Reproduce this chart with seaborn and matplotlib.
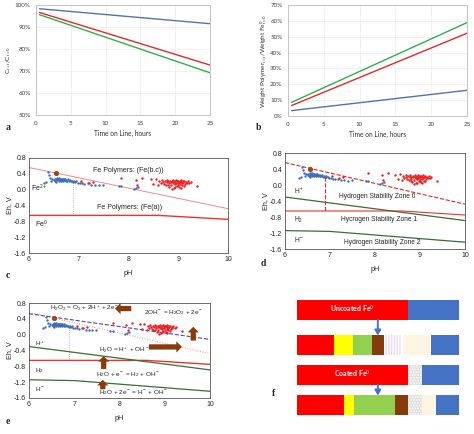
import numpy as np
import pandas as pd
import matplotlib
matplotlib.use("Agg")
import matplotlib.pyplot as plt
import seaborn as sns
from matplotlib.ticker import MultipleLocator, FuncFormatter

# ==========================
# Dane - panel a / b (czas pracy)
# ==========================
hours = [0.5, 25.0]
a_blue = [98.3, 91.5]
a_red = [96.6, 72.7]
a_green = [95.6, 69.2]
b_green = [8.6, 58.9]
b_red = [6.6, 52.2]
b_blue = [3.4, 16.2]

# ==========================
# Dane - diagramy Eh-pH (c, d, e)
# ==========================
blue_ph = [6.38, 6.40, 6.42, 6.45, 6.47, 6.50, 6.52, 6.53, 6.55, 6.56, 6.57, 6.58, 6.60, 6.60,
           6.62, 6.63, 6.64, 6.65, 6.66, 6.67, 6.68, 6.69, 6.70, 6.71, 6.72, 6.73, 6.74, 6.75,
           6.77, 6.78, 6.80, 6.82, 6.84, 6.86, 6.88, 6.90, 6.92, 6.95, 6.98, 7.02, 7.06, 7.10,
           7.18, 7.25, 7.32, 7.40, 7.48, 6.35, 6.30, 6.55, 7.80, 7.85, 8.12, 8.16, 8.20]
blue_eh = [0.45, 0.38, 0.30, 0.22, 0.27, 0.25, 0.28, 0.23, 0.26, 0.30, 0.24, 0.27, 0.22, 0.29,
           0.25, 0.27, 0.23, 0.28, 0.26, 0.24, 0.27, 0.22, 0.25, 0.28, 0.24, 0.26, 0.22, 0.25,
           0.23, 0.26, 0.22, 0.24, 0.21, 0.23, 0.20, 0.22, 0.19, 0.21, 0.18, 0.17, 0.16, 0.15,
           0.16, 0.13, 0.12, 0.11, 0.12, 0.20, 0.18, 0.20, 0.09, 0.10, 0.02, 0.05, 0.08]
red_ph = [8.62, 8.65, 8.68, 8.70, 8.72, 8.74, 8.75, 8.77, 8.78, 8.80, 8.81, 8.82, 8.84, 8.85,
          8.86, 8.88, 8.89, 8.90, 8.91, 8.92, 8.93, 8.94, 8.95, 8.96, 8.97, 8.98, 8.99, 9.00,
          9.01, 9.02, 9.03, 9.04, 9.05, 9.06, 9.07, 9.08, 9.09, 9.10, 9.12, 9.13, 9.15, 9.17,
          9.19, 9.22, 9.25, 8.87, 8.94, 9.00, 9.05, 9.11, 8.79, 9.38,
          7.05, 7.20, 7.28, 7.85, 8.15, 8.18, 8.28, 8.45, 8.50, 8.55, 8.60]
red_eh = [0.22, 0.18, 0.24, 0.20, 0.15, 0.22, 0.12, 0.19, 0.24, 0.21, 0.16, 0.08, 0.23, 0.19,
          0.13, 0.21, 0.24, 0.17, 0.05, 0.20, 0.22, 0.14, 0.18, 0.24, 0.10, 0.21, 0.16, 0.23,
          0.19, 0.07, 0.22, 0.14, 0.20, 0.24, 0.17, 0.11, 0.21, 0.19, 0.23, 0.15, 0.20, 0.18,
          0.22, 0.17, 0.20, 0.02, 0.06, 0.11, 0.04, 0.09, 0.11, 0.10,
          0.22, 0.18, 0.19, 0.30, 0.24, 0.12, 0.30, 0.26, 0.15, 0.27, 0.12]
brown_ph = [6.55]
brown_eh = [0.41]

# granice stref
poly_ph = [6.0, 10.0]
poly_eh = [0.56, -0.48]
fe0_ph = [6.0, 8.6, 10.0]
fe0_eh = [-0.65, -0.65, -0.75]
vert_ph = [6.88, 6.88]
vert_eh = [0.20, -0.65]
h_up_ph = [6.0, 10.0]
h_up_eh = [-0.30, -0.89]
h_low_ph = [6.0, 7.0, 10.0]
h_low_eh = [-1.14, -1.16, -1.43]
perox_ph = [6.0, 10.0]
perox_eh = [0.53, -0.12]

# ==========================
# Dane - panel f (udziały warstw, %)
# ==========================
f_rows = [
    [("#ff0000", 68.4), ("#4472c4", 31.6)],
    [("#ff0000", 22.8), ("#ffff00", 11.5), ("#92d050", 11.7), ("#843c0c", 7.8),
     ("#e6def0", 11.3), ("#ffffff", 0.6), ("#fdf5e1", 16.6), ("#ffffff", 0.4), ("#4472c4", 17.3)],
    [("#ff0000", 68.8), ("#dcdcdc", 8.4), ("#4472c4", 22.8)],
    [("#ff0000", 29.2), ("#ffff00", 6.2), ("#92d050", 25.1), ("#843c0c", 8.2),
     ("#dcdcdc", 8.6), ("#fdf5e1", 8.2), ("#4472c4", 14.7)],
]
f_titles = ["Uncoated Fe$^0$", None, "Coated Fe$^0$", None]

sns.set_style("white")
plt.rcParams["font.family"] = ["Liberation Sans", "DejaVu Sans"]
plt.rcParams["mathtext.fontset"] = "custom"
plt.rcParams["mathtext.rm"] = "Liberation Sans"
plt.rcParams["mathtext.it"] = "Liberation Sans:italic"

W, H = 474, 434
fig = plt.figure(figsize=(W / 100, H / 100), dpi=100)


def box(x0, y0, x1, y1):
    # piksele -> ułamki figury
    return [x0 / W, 1 - y1 / H, (x1 - x0) / W, (y1 - y0) / H]


def line(ax, x, y, **kw):
    sns.lineplot(x=x, y=y, ax=ax, estimator=None, sort=False, **kw)


# ---------- a, b ----------
def time_panel(ax, series, ylim, ystep, ylabel):
    for vals, col in series:
        line(ax, hours, vals, color=col, lw=1.0)
    ax.set_xlim(0, 25)
    ax.set_ylim(*ylim)
    ax.xaxis.set_major_locator(MultipleLocator(5))
    ax.xaxis.set_minor_locator(MultipleLocator(1))
    ax.yaxis.set_major_locator(MultipleLocator(ystep))
    ax.yaxis.set_minor_locator(MultipleLocator(ystep / 5))
    ax.yaxis.set_major_formatter(FuncFormatter(lambda v, p: f"{v:.0f}%"))
    ax.grid(True, color="#ececec", lw=0.5)
    for s in ax.spines.values():
        s.set_color("#bdbdbd")
        s.set_linewidth(0.6)
    ax.tick_params(which="both", direction="out", colors="#9a9a9a", labelcolor="#444444",
                   labelsize=4.5, length=2, width=0.4, pad=2)
    ax.tick_params(which="minor", length=1.2)
    ax.set_xlabel("Time on Line, hours", fontsize=4.8, family="Lato", color="#333333", labelpad=3)
    ax.set_ylabel(ylabel, fontsize=4.6, family="Lato", color="#333333", labelpad=1)
    for t in ax.get_xticklabels() + ax.get_yticklabels():
        t.set_family("Lato")


ax_a = fig.add_axes(box(36, 5, 210, 115))
time_panel(ax_a, [(a_blue, "#5470b4"), (a_red, "#e8262b"), (a_green, "#2fae4f")],
           (50, 100), 10, "C$_{t=t}$/C$_{t=0}$")
ax_b = fig.add_axes(box(288, 5, 467, 116))
time_panel(ax_b, [(b_green, "#2fae4f"), (b_red, "#e8262b"), (b_blue, "#5470b4")],
           (0, 70), 10, "Weight Polymer$_{t=t}$/Weight Fe$^0_{t=0}$")


# ---------- c, d, e ----------
def ehph_axes(ax):
    sns.scatterplot(x=blue_ph, y=blue_eh, ax=ax, color="#3d6fb8", s=3, linewidth=0, zorder=3)
    sns.scatterplot(x=red_ph, y=red_eh, ax=ax, color="#ee1c1c", s=3, linewidth=0, zorder=3)
    sns.scatterplot(x=brown_ph, y=brown_eh, ax=ax, color="#9a4a16", s=14, linewidth=0, zorder=4)
    ax.set_xlim(6, 10)
    ax.set_ylim(-1.6, 0.8)
    ax.xaxis.set_major_locator(MultipleLocator(1))
    ax.xaxis.set_minor_locator(MultipleLocator(0.2))
    ax.yaxis.set_major_locator(MultipleLocator(0.4))
    ax.yaxis.set_minor_locator(MultipleLocator(0.1))
    ax.yaxis.set_major_formatter(FuncFormatter(lambda v, p: f"{v:.1f}"))
    for s in ax.spines.values():
        s.set_color("#555555")
        s.set_linewidth(0.6)
    ax.tick_params(which="both", direction="in", labelsize=5, length=2, width=0.4,
                   colors="#555555", labelcolor="#222222", pad=2)
    ax.tick_params(which="minor", length=1.2)
    ax.set_xlabel("pH", fontsize=5.2, labelpad=5)
    ax.set_ylabel("Eh, V", fontsize=5.2, labelpad=1)


txt = dict(fontsize=5, color="#222222", va="center")

ax_c = fig.add_axes(box(29, 158, 228, 253))
line(ax_c, poly_ph, poly_eh, color="#f08a8a", lw=0.7)
line(ax_c, vert_ph, vert_eh, color="#f08a8a", lw=0.6, linestyle=":")
line(ax_c, fe0_ph, fe0_eh, color="#f03030", lw=1.0)
ehph_axes(ax_c)
ax_c.text(7.28, 0.49, "Fe Polymers: (Fe(b.c))", **txt)
ax_c.text(7.36, -0.44, "Fe Polymers: (Fe(a))", **txt)
ax_c.text(6.05, 0.04, "Fe$^{2+}$", **txt)
ax_c.text(6.12, -0.88, "Fe$^0$", **txt)

ax_d = fig.add_axes(box(285, 153, 465, 249))
line(ax_d, poly_ph, poly_eh, color="#ee2020", lw=0.8, linestyle="--", dashes=(3, 2))
line(ax_d, vert_ph, vert_eh, color="#ee2020", lw=0.8, linestyle="--", dashes=(2, 1.5))
line(ax_d, fe0_ph, fe0_eh, color="#f03030", lw=0.8)
line(ax_d, h_up_ph, h_up_eh, color="#3d6b3a", lw=0.9)
line(ax_d, h_low_ph, h_low_eh, color="#3d6b3a", lw=0.9)
ehph_axes(ax_d)
dtxt = dict(txt, fontsize=4.8)
ax_d.text(6.19, -0.15, "H$^+$", **dtxt)
ax_d.text(7.2, -0.29, "Hydrogen Stability Zone 0", **dtxt)
ax_d.text(6.19, -0.87, "H$_2$", **dtxt)
ax_d.text(7.24, -0.87, "Hycrogen Stability Zone 1", **dtxt)
ax_d.text(6.19, -1.36, "H$^-$", **dtxt)
ax_d.text(7.3, -1.43, "Hydrogen Stability Zone 2", **dtxt)

ax_e = fig.add_axes(box(29, 303, 210, 398))
line(ax_e, poly_ph, poly_eh, color="#f08a8a", lw=0.7, linestyle=":")
line(ax_e, vert_ph, vert_eh, color="#f08a8a", lw=0.6, linestyle=":")
line(ax_e, perox_ph, perox_eh, color="#4a4ea8", lw=0.8, linestyle="--", dashes=(3, 2))
line(ax_e, fe0_ph, fe0_eh, color="#f03030", lw=1.0)
line(ax_e, h_up_ph, h_up_eh, color="#3d6b3a", lw=0.9)
line(ax_e, h_low_ph, h_low_eh, color="#3d6b3a", lw=0.9)
ehph_axes(ax_e)
etxt = dict(fontsize=4.6, color="#222222", va="center")
ax_e.text(6.46, 0.66, "H$_2$O$_2$ = O$_2$ + 2H$^+$ + 2e$^-$", **etxt)
ax_e.text(8.54, 0.55, "2OH$^-$ = H$_2$O$_2$ + 2e$^-$", **etxt)
ax_e.text(7.55, -0.40, "H$_2$O = H$^+$ + OH$^-$", **etxt)
ax_e.text(7.48, -1.0, "H$_2$O + e$^-$ = H$_2$ + OH$^-$", **etxt)
ax_e.text(7.55, -1.45, "H$_2$O + 2e$^-$ = H$^-$ + OH$^-$", **etxt)
ax_e.text(6.13, -0.23, "H$^+$", **etxt)
ax_e.text(6.13, -0.91, "H$_2$", **etxt)
ax_e.text(6.13, -1.38, "H$^-$", **etxt)
brown = "#8b3a0e"
arrows = [((8.26, 0.66), (7.9, 0.66)), ((8.65, -0.31), (9.38, -0.31)),
          ((9.63, -0.15), (9.63, 0.2)), ((7.65, -0.87), (7.65, -0.54)),
          ((7.63, -1.38), (7.63, -1.14))]
for (x0, y0), (x1, y1) in arrows:
    ax_e.annotate("", xy=(x1, y1), xytext=(x0, y0), zorder=5,
                  arrowprops=dict(arrowstyle="simple,head_length=0.45,head_width=0.9,tail_width=0.42",
                                  color=brown, lw=0, mutation_scale=9, shrinkA=0, shrinkB=0))

# ---------- f ----------
ax_f = fig.add_axes(box(297, 295, 459, 420))
row_y = [0.0, 1.2, 2.2, 3.23]
for yy, segs, title in zip(row_y, f_rows, f_titles):
    left = 0.0
    for col, w in segs:
        hatch = None
        if col == "#e6def0":
            hatch = "||||||"
        elif col == "#dcdcdc":
            hatch = "......"
        ax_f.barh(yy, w, left=left, height=0.66, color=col, edgecolor="white" if hatch else col,
                  lw=0, hatch=hatch)
        left += w
    if title:
        ax_f.text(segs[0][1] / 2, yy, title, color="white", fontsize=5, fontweight="bold",
                  family="Lato", ha="center", va="center")
for ya, yb in [(0.33, 0.87), (2.53, 2.9)]:
    ax_f.annotate("", xy=(49.9, yb), xytext=(49.9, ya),
                  arrowprops=dict(arrowstyle="-|>,head_length=0.3,head_width=0.18",
                                  color="#4472c4", lw=1.4, shrinkA=0, shrinkB=0))
ax_f.set_xlim(0, 100)
ax_f.set_ylim(3.73, -0.5)
ax_f.axis("off")

# ---------- etykiety paneli ----------
lab = dict(fontsize=7, fontweight="bold", family="Liberation Serif", ha="left", va="center")
fig.text(6 / W, 1 - 127 / H, "a", **lab)
fig.text(256 / W, 1 - 127 / H, "b", **lab)
fig.text(6 / W, 1 - 275 / H, "c", **lab)
fig.text(261 / W, 1 - 263 / H, "d", **lab)
fig.text(6 / W, 1 - 422 / H, "e", **lab)
fig.text(272 / W, 1 - 393 / H, "f", **lab)

fig.savefig("out.png", dpi=100)
